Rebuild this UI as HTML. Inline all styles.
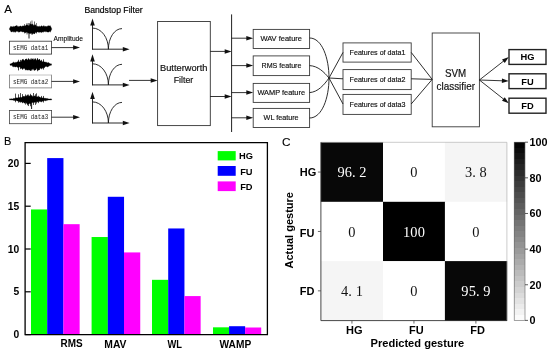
<!DOCTYPE html>
<html lang="en"><head><meta charset="utf-8"><title>Figure</title>
<style>
html,body{margin:0;padding:0;background:#fff;}
body{width:550px;height:352px;overflow:hidden;}
svg{display:block;}
</style></head><body>
<svg width="550" height="352" viewBox="0 0 550 352">
<rect x="0" y="0" width="550" height="352" fill="#fff"/>
<text x="4.2" y="13.1" font-size="11.5" font-family='"Liberation Sans", sans-serif' font-weight="normal" text-anchor="start" fill="#000" stroke="#000" stroke-width="0.1" >A</text>
<text x="84.4" y="13.2" font-size="8.8" font-family='"Liberation Sans", sans-serif' font-weight="normal" text-anchor="start" fill="#000" textLength="58.2" lengthAdjust="spacingAndGlyphs" stroke="#000" stroke-width="0.18" >Bandstop Filter</text>
<text x="53.5" y="41.0" font-size="7.2" font-family='"Liberation Sans", sans-serif' font-weight="normal" text-anchor="start" fill="#000" textLength="29.5" lengthAdjust="spacingAndGlyphs" stroke="#000" stroke-width="0.1" >Amplitude</text>
<path d="M9.50,28.21 L10.20,27.29 L10.90,26.08 L11.61,26.75 L12.31,26.78 L13.01,26.73 L13.71,26.24 L14.41,26.66 L15.11,25.95 L15.82,26.02 L16.52,25.47 L17.22,25.63 L17.92,26.63 L18.62,26.39 L19.32,26.57 L20.02,25.92 L20.73,26.03 L21.43,26.70 L22.13,25.79 L22.83,26.28 L23.53,26.01 L24.23,25.42 L24.94,26.17 L25.64,25.60 L26.34,25.11 L27.04,24.49 L27.74,25.34 L28.45,25.70 L29.15,25.80 L29.85,24.22 L30.55,23.90 L31.25,24.24 L31.95,24.50 L32.66,24.02 L33.36,24.88 L34.06,25.83 L34.76,24.84 L35.46,24.70 L36.16,25.64 L36.87,26.38 L37.57,26.25 L38.27,26.51 L38.97,26.47 L39.67,26.14 L40.37,26.64 L41.08,26.00 L41.78,25.64 L42.48,26.42 L43.18,26.32 L43.88,25.48 L44.58,26.58 L45.28,26.50 L45.99,26.01 L46.69,26.82 L47.39,26.31 L48.09,25.50 L48.79,26.11 L49.50,25.89 L50.20,25.58 L50.90,27.12 L51.60,28.18 L51.60,29.82 L50.90,30.82 L50.20,32.26 L49.50,31.25 L48.79,32.03 L48.09,32.13 L47.39,31.96 L46.69,31.76 L45.99,31.54 L45.28,31.85 L44.58,31.50 L43.88,31.39 L43.18,32.42 L42.48,31.77 L41.78,32.42 L41.08,32.48 L40.37,31.89 L39.67,32.56 L38.97,31.71 L38.27,32.59 L37.57,31.67 L36.87,32.35 L36.16,32.85 L35.46,32.33 L34.76,33.81 L34.06,33.43 L33.36,33.50 L32.66,34.19 L31.95,33.24 L31.25,33.55 L30.55,32.92 L29.85,33.38 L29.15,33.46 L28.45,32.95 L27.74,33.29 L27.04,31.98 L26.34,32.14 L25.64,32.97 L24.94,32.35 L24.23,32.44 L23.53,31.76 L22.83,32.12 L22.13,31.85 L21.43,31.50 L20.73,31.28 L20.02,31.71 L19.32,31.99 L18.62,32.32 L17.92,31.34 L17.22,31.58 L16.52,31.24 L15.82,31.72 L15.11,32.49 L14.41,31.48 L13.71,32.32 L13.01,31.30 L12.31,31.77 L11.61,31.88 L10.90,31.68 L10.20,30.26 L9.50,29.71Z" fill="#000" stroke="#000" stroke-width="0.3" stroke-linejoin="round"/>
<line x1="29.0" y1="23.0" x2="29.0" y2="38.5" stroke="#000" stroke-width="0.9"/>
<line x1="32.0" y1="20.5" x2="32.0" y2="35.0" stroke="#000" stroke-width="0.6"/>
<line x1="27.0" y1="23.0" x2="27.0" y2="34.5" stroke="#000" stroke-width="0.6"/>
<line x1="34.5" y1="21.5" x2="34.5" y2="34.0" stroke="#000" stroke-width="0.6"/>
<line x1="30.5" y1="21.5" x2="30.5" y2="34.0" stroke="#000" stroke-width="0.5"/>
<line x1="36.5" y1="23.0" x2="36.5" y2="33.5" stroke="#000" stroke-width="0.5"/>
<line x1="24.5" y1="24.0" x2="24.5" y2="33.5" stroke="#000" stroke-width="0.5"/>
<path d="M10.00,63.64 L10.70,63.93 L11.41,63.59 L12.11,63.12 L12.81,62.67 L13.52,61.99 L14.22,62.61 L14.92,62.70 L15.63,62.29 L16.33,62.46 L17.03,61.85 L17.74,61.67 L18.44,61.53 L19.14,62.09 L19.85,61.69 L20.55,61.97 L21.25,61.35 L21.96,59.80 L22.66,59.52 L23.36,59.19 L24.07,60.57 L24.77,60.48 L25.47,59.37 L26.18,58.75 L26.88,59.13 L27.58,60.48 L28.29,58.42 L28.99,58.80 L29.69,60.21 L30.40,59.83 L31.10,58.25 L31.81,59.66 L32.51,58.86 L33.21,60.34 L33.92,58.42 L34.62,60.30 L35.32,58.27 L36.03,59.85 L36.73,60.43 L37.43,58.51 L38.14,59.68 L38.84,60.04 L39.54,59.38 L40.25,60.81 L40.95,61.05 L41.65,61.26 L42.36,61.72 L43.06,61.61 L43.76,61.52 L44.47,61.96 L45.17,62.03 L45.87,62.14 L46.58,62.32 L47.28,62.84 L47.98,62.69 L48.69,62.49 L49.39,63.26 L50.09,63.57 L50.80,63.90 L51.50,63.85 L51.50,65.16 L50.80,65.27 L50.09,65.53 L49.39,65.87 L48.69,66.36 L47.98,66.63 L47.28,67.01 L46.58,66.40 L45.87,66.29 L45.17,67.01 L44.47,67.68 L43.76,67.92 L43.06,67.55 L42.36,68.56 L41.65,68.02 L40.95,68.61 L40.25,68.27 L39.54,68.30 L38.84,69.94 L38.14,70.26 L37.43,69.73 L36.73,68.29 L36.03,69.63 L35.32,69.94 L34.62,70.38 L33.92,70.34 L33.21,68.72 L32.51,68.77 L31.81,70.69 L31.10,69.33 L30.40,70.33 L29.69,70.30 L28.99,69.52 L28.29,70.26 L27.58,69.93 L26.88,70.23 L26.18,69.38 L25.47,70.28 L24.77,68.53 L24.07,68.44 L23.36,68.56 L22.66,69.58 L21.96,68.25 L21.25,68.40 L20.55,67.43 L19.85,66.83 L19.14,67.30 L18.44,67.37 L17.74,67.28 L17.03,67.34 L16.33,66.42 L15.63,66.97 L14.92,66.93 L14.22,66.50 L13.52,66.83 L12.81,66.72 L12.11,65.54 L11.41,65.25 L10.70,65.41 L10.00,65.12Z" fill="#000" stroke="#000" stroke-width="0.3" stroke-linejoin="round"/>
<line x1="18.5" y1="59.79" x2="18.5" y2="70.4" stroke="#000" stroke-width="0.75"/>
<line x1="20.5" y1="59.88" x2="20.5" y2="69.15" stroke="#000" stroke-width="0.75"/>
<line x1="22.5" y1="59.58" x2="22.5" y2="69.36" stroke="#000" stroke-width="0.75"/>
<line x1="25.5" y1="59.32" x2="25.5" y2="69.12" stroke="#000" stroke-width="0.75"/>
<line x1="27.5" y1="60.0" x2="27.5" y2="69.33" stroke="#000" stroke-width="0.75"/>
<line x1="29.5" y1="59.8" x2="29.5" y2="69.8" stroke="#000" stroke-width="0.75"/>
<line x1="30.5" y1="59.95" x2="30.5" y2="70.92" stroke="#000" stroke-width="0.75"/>
<line x1="32.5" y1="58.77" x2="32.5" y2="69.33" stroke="#000" stroke-width="0.75"/>
<line x1="34.5" y1="59.5" x2="34.5" y2="69.76" stroke="#000" stroke-width="0.75"/>
<line x1="35.5" y1="59.27" x2="35.5" y2="69.27" stroke="#000" stroke-width="0.75"/>
<line x1="37.5" y1="58.3" x2="37.5" y2="71.18" stroke="#000" stroke-width="0.75"/>
<line x1="39.5" y1="59.07" x2="39.5" y2="70.06" stroke="#000" stroke-width="0.75"/>
<line x1="41.5" y1="59.83" x2="41.5" y2="69.22" stroke="#000" stroke-width="0.75"/>
<line x1="43.5" y1="59.31" x2="43.5" y2="69.58" stroke="#000" stroke-width="0.75"/>
<path d="M9.50,98.84 L10.20,98.99 L10.90,98.86 L11.61,98.80 L12.31,98.91 L13.01,98.71 L13.71,98.29 L14.41,98.50 L15.11,98.12 L15.82,98.13 L16.52,97.66 L17.22,97.70 L17.92,98.06 L18.62,97.42 L19.32,97.83 L20.02,96.97 L20.73,97.55 L21.43,97.50 L22.13,97.07 L22.83,96.70 L23.53,95.96 L24.23,96.78 L24.94,95.95 L25.64,96.61 L26.34,95.43 L27.04,96.42 L27.74,95.29 L28.45,96.27 L29.15,96.27 L29.85,95.51 L30.55,95.34 L31.25,95.94 L31.95,95.53 L32.66,96.39 L33.36,96.60 L34.06,96.29 L34.76,95.72 L35.46,96.31 L36.16,96.71 L36.87,97.00 L37.57,96.56 L38.27,97.38 L38.97,96.71 L39.67,97.00 L40.37,97.47 L41.08,97.68 L41.78,97.53 L42.48,97.91 L43.18,97.71 L43.88,98.00 L44.58,98.29 L45.28,98.32 L45.99,98.36 L46.69,98.59 L47.39,98.40 L48.09,98.78 L48.79,98.90 L49.50,98.99 L50.20,98.97 L50.90,98.80 L51.60,98.98 L51.60,100.00 L50.90,99.90 L50.20,100.00 L49.50,99.88 L48.79,99.94 L48.09,100.01 L47.39,100.32 L46.69,100.58 L45.99,100.39 L45.28,100.93 L44.58,100.56 L43.88,100.76 L43.18,101.04 L42.48,101.28 L41.78,101.51 L41.08,101.22 L40.37,101.66 L39.67,101.41 L38.97,101.20 L38.27,101.75 L37.57,102.02 L36.87,101.49 L36.16,101.63 L35.46,102.00 L34.76,102.33 L34.06,102.50 L33.36,102.46 L32.66,102.50 L31.95,102.73 L31.25,102.60 L30.55,104.18 L29.85,103.07 L29.15,104.07 L28.45,104.01 L27.74,103.82 L27.04,103.96 L26.34,102.90 L25.64,102.14 L24.94,103.06 L24.23,103.20 L23.53,102.03 L22.83,102.76 L22.13,101.55 L21.43,102.18 L20.73,101.43 L20.02,102.02 L19.32,101.86 L18.62,101.28 L17.92,101.01 L17.22,101.00 L16.52,100.60 L15.82,100.76 L15.11,100.58 L14.41,100.44 L13.71,100.44 L13.01,100.12 L12.31,100.10 L11.61,100.02 L10.90,99.81 L10.20,99.95 L9.50,99.99Z" fill="#000" stroke="#000" stroke-width="0.3" stroke-linejoin="round"/>
<line x1="15.5" y1="93.57" x2="15.5" y2="102.25" stroke="#000" stroke-width="0.7"/>
<line x1="18.5" y1="94.29" x2="18.5" y2="102.7" stroke="#000" stroke-width="0.7"/>
<line x1="20.5" y1="93.1" x2="20.5" y2="102.6" stroke="#000" stroke-width="0.7"/>
<line x1="22.5" y1="94.12" x2="22.5" y2="103.18" stroke="#000" stroke-width="0.7"/>
<line x1="25.5" y1="94.46" x2="25.5" y2="104.59" stroke="#000" stroke-width="0.7"/>
<line x1="27.5" y1="94.66" x2="27.5" y2="105.24" stroke="#000" stroke-width="0.7"/>
<line x1="28.5" y1="94.57" x2="28.5" y2="106.05" stroke="#000" stroke-width="0.7"/>
<line x1="30.5" y1="93.82" x2="30.5" y2="106.25" stroke="#000" stroke-width="0.7"/>
<line x1="33.5" y1="93.0" x2="33.5" y2="104.91" stroke="#000" stroke-width="0.7"/>
<line x1="35.5" y1="94.3" x2="35.5" y2="104.89" stroke="#000" stroke-width="0.7"/>
<line x1="36.5" y1="93.34" x2="36.5" y2="103.49" stroke="#000" stroke-width="0.7"/>
<line x1="38.5" y1="95.79" x2="38.5" y2="103.11" stroke="#000" stroke-width="0.7"/>
<line x1="41.5" y1="95.95" x2="41.5" y2="102.19" stroke="#000" stroke-width="0.7"/>
<line x1="43.5" y1="95.95" x2="43.5" y2="102.52" stroke="#000" stroke-width="0.7"/>
<line x1="31.6" y1="95.4" x2="31.6" y2="109.0" stroke="#000" stroke-width="0.9"/>
<rect x="9.5" y="41.2" width="42.1" height="12.899999999999999" fill="none" stroke="#333" stroke-width="0.8"/>
<text x="13.1" y="49.85000000000001" font-size="6.8" font-family='"Liberation Mono", monospace' font-weight="normal" text-anchor="start" fill="#222" textLength="35.3" lengthAdjust="spacingAndGlyphs" >sEMG data1</text>
<line x1="51.5" y1="47.6" x2="74.1" y2="47.6" stroke="#111" stroke-width="0.85"/>
<polygon points="80.00,47.60 73.10,49.85 73.10,45.35" fill="#111"/>
<rect x="9.5" y="75.1" width="42.1" height="12.800000000000011" fill="none" stroke="#777" stroke-width="0.8"/>
<line x1="10" y1="75.1" x2="51.2" y2="75.1" stroke="#eee" stroke-width="1.2"/>
<text x="13.1" y="83.7" font-size="6.8" font-family='"Liberation Mono", monospace' font-weight="normal" text-anchor="start" fill="#222" textLength="35.3" lengthAdjust="spacingAndGlyphs" >sEMG data2</text>
<line x1="51.5" y1="81.4" x2="74.1" y2="81.4" stroke="#111" stroke-width="0.85"/>
<polygon points="80.00,81.40 73.10,83.65 73.10,79.15" fill="#111"/>
<rect x="9.5" y="110.5" width="42.1" height="13.200000000000003" fill="none" stroke="#444" stroke-width="0.8"/>
<text x="13.1" y="119.3" font-size="6.8" font-family='"Liberation Mono", monospace' font-weight="normal" text-anchor="start" fill="#222" textLength="35.3" lengthAdjust="spacingAndGlyphs" >sEMG data3</text>
<line x1="51.5" y1="117.2" x2="74.1" y2="117.2" stroke="#111" stroke-width="0.85"/>
<polygon points="80.00,117.20 73.10,119.45 73.10,114.95" fill="#111"/>
<line x1="92.5" y1="23.4" x2="92.5" y2="49.6" stroke="#111" stroke-width="0.9"/>
<polygon points="92.5,18.4 90.2,25.6 94.8,25.6" fill="#111"/>
<line x1="92.1" y1="49.2" x2="124" y2="49.2" stroke="#111" stroke-width="0.9"/>
<polygon points="129.6,49.2 122.8,46.95 122.8,51.45" fill="#111"/>
<path d="M92.6,28.1 A15.8,21.1 0 0 1 108.4,49.2 A13.6,20.6 0 0 1 122,28.6" fill="none" stroke="#1a1a1a" stroke-width="0.9"/>
<line x1="92.5" y1="59.2" x2="92.5" y2="85.30000000000001" stroke="#111" stroke-width="0.9"/>
<polygon points="92.5,54.2 90.2,61.4 94.8,61.4" fill="#111"/>
<line x1="92.1" y1="84.9" x2="124" y2="84.9" stroke="#111" stroke-width="0.9"/>
<polygon points="129.6,84.9 122.8,82.65 122.8,87.15" fill="#111"/>
<path d="M92.6,63.8 A15.8,21.1 0 0 1 108.4,84.9 A13.6,20.6 0 0 1 122,64.3" fill="none" stroke="#1a1a1a" stroke-width="0.9"/>
<line x1="92.5" y1="96.8" x2="92.5" y2="123.4" stroke="#111" stroke-width="0.9"/>
<polygon points="92.5,91.8 90.2,99.0 94.8,99.0" fill="#111"/>
<line x1="92.1" y1="123.0" x2="124" y2="123.0" stroke="#111" stroke-width="0.9"/>
<polygon points="129.6,123.0 122.8,120.75 122.8,125.25" fill="#111"/>
<path d="M92.6,101.9 A15.8,21.1 0 0 1 108.4,123.0 A13.6,20.6 0 0 1 122,102.4" fill="none" stroke="#1a1a1a" stroke-width="0.9"/>
<line x1="129" y1="80.4" x2="151.7" y2="80.4" stroke="#111" stroke-width="0.85"/>
<polygon points="157.60,80.40 150.70,82.65 150.70,78.15" fill="#111"/>
<rect x="157.6" y="21.5" width="52.7" height="104.1" fill="none" stroke="#333" stroke-width="0.9"/>
<text x="183.7" y="71.0" font-size="8.8" font-family='"Liberation Sans", sans-serif' font-weight="normal" text-anchor="middle" fill="#111" textLength="47.4" lengthAdjust="spacingAndGlyphs" stroke="#111" stroke-width="0.18" >Butterworth</text>
<text x="183.5" y="82.7" font-size="8.8" font-family='"Liberation Sans", sans-serif' font-weight="normal" text-anchor="middle" fill="#111" textLength="19.5" lengthAdjust="spacingAndGlyphs" stroke="#111" stroke-width="0.18" >Filter</text>
<line x1="210.2" y1="51.4" x2="225.7" y2="51.4" stroke="#111" stroke-width="0.85"/>
<polygon points="231.60,51.40 224.70,53.65 224.70,49.15" fill="#111"/>
<line x1="210.2" y1="96.5" x2="225.7" y2="96.5" stroke="#111" stroke-width="0.85"/>
<polygon points="231.60,96.50 224.70,98.75 224.70,94.25" fill="#111"/>
<line x1="231.6" y1="14.4" x2="231.6" y2="132" stroke="#222" stroke-width="1.0"/>
<line x1="231.6" y1="38.2" x2="247.3" y2="38.2" stroke="#111" stroke-width="0.85"/>
<polygon points="253.20,38.20 246.30,40.45 246.30,35.95" fill="#111"/>
<rect x="253.2" y="29.4" width="56.4" height="19.1" fill="none" stroke="#3a3a3a" stroke-width="0.9"/>
<text x="260.4" y="41.2" font-size="8.1" font-family='"Liberation Sans", sans-serif' font-weight="normal" text-anchor="start" fill="#111" textLength="41.6" lengthAdjust="spacingAndGlyphs" stroke="#111" stroke-width="0.18" >WAV feature</text>
<line x1="231.6" y1="65.6" x2="247.3" y2="65.6" stroke="#111" stroke-width="0.85"/>
<polygon points="253.20,65.60 246.30,67.85 246.30,63.35" fill="#111"/>
<rect x="253.2" y="55.9" width="56.4" height="19.699999999999996" fill="none" stroke="#3a3a3a" stroke-width="0.9"/>
<text x="261.6" y="68.1" font-size="8.1" font-family='"Liberation Sans", sans-serif' font-weight="normal" text-anchor="start" fill="#111" textLength="39.8" lengthAdjust="spacingAndGlyphs" stroke="#111" stroke-width="0.18" >RMS feature</text>
<line x1="231.6" y1="92.6" x2="247.3" y2="92.6" stroke="#111" stroke-width="0.85"/>
<polygon points="253.20,92.60 246.30,94.85 246.30,90.35" fill="#111"/>
<rect x="253.2" y="83.4" width="56.4" height="19.0" fill="none" stroke="#3a3a3a" stroke-width="0.9"/>
<text x="257.4" y="95.1" font-size="8.1" font-family='"Liberation Sans", sans-serif' font-weight="normal" text-anchor="start" fill="#111" textLength="47.6" lengthAdjust="spacingAndGlyphs" stroke="#111" stroke-width="0.18" >WAMP feature</text>
<line x1="231.6" y1="117.8" x2="247.3" y2="117.8" stroke="#111" stroke-width="0.85"/>
<polygon points="253.20,117.80 246.30,120.05 246.30,115.55" fill="#111"/>
<rect x="253.2" y="108.4" width="56.4" height="19.099999999999994" fill="none" stroke="#3a3a3a" stroke-width="0.9"/>
<text x="263.6" y="119.8" font-size="8.1" font-family='"Liberation Sans", sans-serif' font-weight="normal" text-anchor="start" fill="#111" textLength="35.0" lengthAdjust="spacingAndGlyphs" stroke="#111" stroke-width="0.18" >WL feature</text>
<path d="M309.6,38 C322,38 329,58 329,78" fill="none" stroke="#161616" stroke-width="0.9"/>
<path d="M309.6,65.6 C318,66 324,72 329,78" fill="none" stroke="#161616" stroke-width="0.9"/>
<path d="M309.6,92.6 C318,92 324,85 329,78" fill="none" stroke="#161616" stroke-width="0.9"/>
<path d="M309.6,118 C322,118 329,98 329,78" fill="none" stroke="#161616" stroke-width="0.9"/>
<rect x="343" y="42.9" width="68.2" height="19.200000000000003" fill="none" stroke="#3a3a3a" stroke-width="0.9"/>
<text x="349.6" y="55.1" font-size="8.0" font-family='"Liberation Sans", sans-serif' font-weight="normal" text-anchor="start" fill="#111" textLength="55.8" lengthAdjust="spacingAndGlyphs" stroke="#111" stroke-width="0.18" >Features of data1</text>
<line x1="329" y1="78" x2="343" y2="52.4" stroke="#161616" stroke-width="0.9"/>
<line x1="411.2" y1="52.4" x2="432.2" y2="79.4" stroke="#161616" stroke-width="0.9"/>
<rect x="343" y="69.6" width="68.2" height="20.0" fill="none" stroke="#3a3a3a" stroke-width="0.9"/>
<text x="349.6" y="82.0" font-size="8.0" font-family='"Liberation Sans", sans-serif' font-weight="normal" text-anchor="start" fill="#111" textLength="55.8" lengthAdjust="spacingAndGlyphs" stroke="#111" stroke-width="0.18" >Features of data2</text>
<line x1="329" y1="78" x2="343" y2="78.8" stroke="#161616" stroke-width="0.9"/>
<line x1="411.2" y1="78.8" x2="432.2" y2="79.4" stroke="#161616" stroke-width="0.9"/>
<rect x="343" y="94.4" width="68.2" height="20.0" fill="none" stroke="#3a3a3a" stroke-width="0.9"/>
<text x="349.6" y="107.0" font-size="8.0" font-family='"Liberation Sans", sans-serif' font-weight="normal" text-anchor="start" fill="#111" textLength="55.8" lengthAdjust="spacingAndGlyphs" stroke="#111" stroke-width="0.18" >Features of data3</text>
<line x1="329" y1="78" x2="343" y2="104.0" stroke="#161616" stroke-width="0.9"/>
<line x1="411.2" y1="104.0" x2="432.2" y2="79.4" stroke="#161616" stroke-width="0.9"/>
<rect x="432.2" y="33" width="47.2" height="93.8" fill="none" stroke="#3a3a3a" stroke-width="0.9"/>
<text x="455.6" y="76.5" font-size="10.4" font-family='"Liberation Sans", sans-serif' font-weight="normal" text-anchor="middle" fill="#111" textLength="21.2" lengthAdjust="spacingAndGlyphs" stroke="#111" stroke-width="0.18" >SVM</text>
<text x="455.8" y="90.0" font-size="10.2" font-family='"Liberation Sans", sans-serif' font-weight="normal" text-anchor="middle" fill="#111" textLength="38.4" lengthAdjust="spacingAndGlyphs" stroke="#111" stroke-width="0.18" >classifier</text>
<line x1="479.4" y1="80.0" x2="504.15" y2="60.64" stroke="#111" stroke-width="0.85"/>
<polygon points="508.80,57.00 504.75,63.02 501.98,59.48" fill="#111"/>
<rect x="509" y="49.6" width="37" height="14.800000000000004" fill="none" stroke="#222" stroke-width="1.4"/>
<text x="527.5" y="60.4" font-size="9.3" font-family='"Liberation Sans", sans-serif' font-weight="bold" text-anchor="middle" fill="#000" >HG</text>
<line x1="479.4" y1="80.0" x2="502.9" y2="80.8" stroke="#111" stroke-width="0.85"/>
<polygon points="508.80,81.00 501.83,83.01 501.98,78.52" fill="#111"/>
<rect x="509" y="73.8" width="37" height="14.799999999999997" fill="none" stroke="#222" stroke-width="1.4"/>
<text x="527.5" y="84.6" font-size="9.3" font-family='"Liberation Sans", sans-serif' font-weight="bold" text-anchor="middle" fill="#000" >FU</text>
<line x1="479.4" y1="80.0" x2="504.17" y2="99.55" stroke="#111" stroke-width="0.85"/>
<polygon points="508.80,103.20 501.99,100.69 504.78,97.16" fill="#111"/>
<rect x="509" y="98.2" width="37" height="15.0" fill="none" stroke="#222" stroke-width="1.4"/>
<text x="527.5" y="109.0" font-size="9.3" font-family='"Liberation Sans", sans-serif' font-weight="bold" text-anchor="middle" fill="#000" >FD</text>
<text x="4.0" y="145.4" font-size="11.0" font-family='"Liberation Sans", sans-serif' font-weight="normal" text-anchor="start" fill="#000" stroke="#000" stroke-width="0.1" >B</text>
<rect x="31.00" y="209.45" width="16.25" height="125.15" fill="#00ff00"/>
<rect x="47.20" y="158.09" width="16.25" height="176.51" fill="#0000ff"/>
<rect x="63.40" y="224.18" width="16.25" height="110.42" fill="#ff00ff"/>
<rect x="91.60" y="237.02" width="16.25" height="97.58" fill="#00ff00"/>
<rect x="107.80" y="196.78" width="16.25" height="137.82" fill="#0000ff"/>
<rect x="124.00" y="252.42" width="16.25" height="82.18" fill="#ff00ff"/>
<rect x="152.00" y="279.82" width="16.25" height="54.78" fill="#00ff00"/>
<rect x="168.20" y="228.46" width="16.25" height="106.14" fill="#0000ff"/>
<rect x="184.40" y="296.08" width="16.25" height="38.52" fill="#ff00ff"/>
<rect x="213.00" y="327.32" width="16.10" height="7.28" fill="#00ff00"/>
<rect x="229.05" y="326.21" width="16.10" height="8.39" fill="#0000ff"/>
<rect x="245.10" y="327.50" width="16.10" height="7.10" fill="#ff00ff"/>
<path d="M25.1,142.6 H267.4 V334.6 H25.1 Z" fill="none" stroke="#000" stroke-width="1.3"/>
<line x1="25.1" y1="334.6" x2="30.700000000000003" y2="334.6" stroke="#000" stroke-width="1.2"/>
<text x="19.2" y="338.1" font-size="10.3" font-family='"Liberation Sans", sans-serif' font-weight="bold" text-anchor="end" fill="#000" >0</text>
<line x1="25.1" y1="291.8" x2="30.700000000000003" y2="291.8" stroke="#000" stroke-width="1.2"/>
<text x="19.2" y="295.3" font-size="10.3" font-family='"Liberation Sans", sans-serif' font-weight="bold" text-anchor="end" fill="#000" >5</text>
<line x1="25.1" y1="249.0" x2="30.700000000000003" y2="249.0" stroke="#000" stroke-width="1.2"/>
<text x="19.2" y="252.5" font-size="10.3" font-family='"Liberation Sans", sans-serif' font-weight="bold" text-anchor="end" fill="#000" >10</text>
<line x1="25.1" y1="206.20000000000002" x2="30.700000000000003" y2="206.20000000000002" stroke="#000" stroke-width="1.2"/>
<text x="19.2" y="209.70000000000002" font-size="10.3" font-family='"Liberation Sans", sans-serif' font-weight="bold" text-anchor="end" fill="#000" >15</text>
<line x1="25.1" y1="163.4" x2="30.700000000000003" y2="163.4" stroke="#000" stroke-width="1.2"/>
<text x="19.2" y="166.9" font-size="10.3" font-family='"Liberation Sans", sans-serif' font-weight="bold" text-anchor="end" fill="#000" >20</text>
<text x="60.6" y="346.8" font-size="10.0" font-family='"Liberation Sans", sans-serif' font-weight="bold" text-anchor="start" fill="#000" textLength="22.1" lengthAdjust="spacingAndGlyphs" >RMS</text>
<text x="104.3" y="348.0" font-size="10.0" font-family='"Liberation Sans", sans-serif' font-weight="bold" text-anchor="start" fill="#000" textLength="22.2" lengthAdjust="spacingAndGlyphs" >MAV</text>
<text x="167.5" y="348.0" font-size="10.0" font-family='"Liberation Sans", sans-serif' font-weight="bold" text-anchor="start" fill="#000" textLength="14.5" lengthAdjust="spacingAndGlyphs" >WL</text>
<text x="219.6" y="348.0" font-size="10.0" font-family='"Liberation Sans", sans-serif' font-weight="bold" text-anchor="start" fill="#000" textLength="31.6" lengthAdjust="spacingAndGlyphs" >WAMP</text>
<rect x="217.7" y="151.1" width="18" height="9.3" fill="#00ff00"/>
<text x="239.0" y="158.6" font-size="9.3" font-family='"Liberation Sans", sans-serif' font-weight="bold" text-anchor="start" fill="#000" >HG</text>
<rect x="217.7" y="166" width="18" height="9.8" fill="#0000ff"/>
<text x="240.2" y="174.8" font-size="9.3" font-family='"Liberation Sans", sans-serif' font-weight="bold" text-anchor="start" fill="#000" >FU</text>
<rect x="217.7" y="181.4" width="18" height="9.7" fill="#ff00ff"/>
<text x="240.2" y="189.6" font-size="9.3" font-family='"Liberation Sans", sans-serif' font-weight="bold" text-anchor="start" fill="#000" >FD</text>
<text x="282.0" y="146.3" font-size="11.8" font-family='"Liberation Sans", sans-serif' font-weight="normal" text-anchor="start" fill="#000" stroke="#000" stroke-width="0.1" >C</text>
<rect x="320.9" y="142.3" width="62.4" height="59.8" fill="rgb(8,8,8)"/>
<text x="337.40 344.70 352.00 359.30" y="177.2" font-size="14.4" font-family='"Liberation Serif", serif' fill="#fff">96.2</text>
<rect x="383.0" y="142.3" width="62.2" height="59.8" fill="rgb(255,255,255)"/>
<text x="410.35" y="177.2" font-size="14.4" font-family='"Liberation Serif", serif' fill="#111">0</text>
<rect x="444.9" y="142.3" width="62.3" height="59.8" fill="rgb(245,245,245)"/>
<text x="465.00 472.30 479.60" y="177.2" font-size="14.4" font-family='"Liberation Serif", serif' fill="#111">3.8</text>
<rect x="320.9" y="201.8" width="62.4" height="59.6" fill="rgb(255,255,255)"/>
<text x="348.35" y="236.6" font-size="14.4" font-family='"Liberation Serif", serif' fill="#111">0</text>
<rect x="383.0" y="201.8" width="62.2" height="59.6" fill="rgb(0,0,0)"/>
<text x="403.05 410.35 417.65" y="236.6" font-size="14.4" font-family='"Liberation Serif", serif' fill="#fff">100</text>
<rect x="444.9" y="201.8" width="62.3" height="59.6" fill="rgb(255,255,255)"/>
<text x="472.30" y="236.6" font-size="14.4" font-family='"Liberation Serif", serif' fill="#111">0</text>
<rect x="320.9" y="261.1" width="62.4" height="59.8" fill="rgb(245,245,245)"/>
<text x="341.05 348.35 355.65" y="296.0" font-size="14.4" font-family='"Liberation Serif", serif' fill="#111">4.1</text>
<rect x="383.0" y="261.1" width="62.2" height="59.8" fill="rgb(255,255,255)"/>
<text x="410.35" y="296.0" font-size="14.4" font-family='"Liberation Serif", serif' fill="#111">0</text>
<rect x="444.9" y="261.1" width="62.3" height="59.8" fill="rgb(8,8,8)"/>
<text x="461.35 468.65 475.95 483.25" y="296.0" font-size="14.4" font-family='"Liberation Serif", serif' fill="#fff">95.9</text>
<path d="M320.9,142.3 H506.9 V320.6" fill="none" stroke="#aaa" stroke-width="0.6"/>
<path d="M320.9,142.3 V320.6 H506.9" fill="none" stroke="#333" stroke-width="0.9"/>
<line x1="317.9" y1="172.05" x2="320.9" y2="172.05" stroke="#444" stroke-width="0.8"/>
<text x="299.7" y="176.4" font-size="11" font-family='"Liberation Sans", sans-serif' font-weight="bold" text-anchor="start" fill="#000" >HG</text>
<line x1="317.9" y1="231.45000000000002" x2="320.9" y2="231.45000000000002" stroke="#444" stroke-width="0.8"/>
<text x="299.7" y="236.6" font-size="11" font-family='"Liberation Sans", sans-serif' font-weight="bold" text-anchor="start" fill="#000" >FU</text>
<line x1="317.9" y1="290.85" x2="320.9" y2="290.85" stroke="#444" stroke-width="0.8"/>
<text x="299.7" y="294.5" font-size="11" font-family='"Liberation Sans", sans-serif' font-weight="bold" text-anchor="start" fill="#000" >FD</text>
<line x1="351.95" y1="320.6" x2="351.95" y2="323.6" stroke="#444" stroke-width="0.8"/>
<text x="354.3" y="334.0" font-size="11" font-family='"Liberation Sans", sans-serif' font-weight="bold" text-anchor="middle" fill="#000" >HG</text>
<line x1="413.95" y1="320.6" x2="413.95" y2="323.6" stroke="#444" stroke-width="0.8"/>
<text x="416.45" y="334.0" font-size="11" font-family='"Liberation Sans", sans-serif' font-weight="bold" text-anchor="middle" fill="#000" >FU</text>
<line x1="475.9" y1="320.6" x2="475.9" y2="323.6" stroke="#444" stroke-width="0.8"/>
<text x="477.65" y="334.0" font-size="11" font-family='"Liberation Sans", sans-serif' font-weight="bold" text-anchor="middle" fill="#000" >FD</text>
<text x="370.5" y="346.7" font-size="11" font-family='"Liberation Sans", sans-serif' font-weight="bold" text-anchor="start" fill="#000" textLength="93.7" lengthAdjust="spacingAndGlyphs" >Predicted gesture</text>
<text transform="translate(293.4,268.5) rotate(-90)" font-size="11" font-family='"Liberation Sans", sans-serif' font-weight="bold" fill="#000">Actual gesture</text>
<rect x="514.2" y="142.20" width="10.8" height="6.57" fill="rgb(4,4,4)" shape-rendering="crispEdges"/>
<rect x="514.2" y="147.77" width="10.8" height="6.57" fill="rgb(12,12,12)" shape-rendering="crispEdges"/>
<rect x="514.2" y="153.34" width="10.8" height="6.57" fill="rgb(20,20,20)" shape-rendering="crispEdges"/>
<rect x="514.2" y="158.91" width="10.8" height="6.57" fill="rgb(28,28,28)" shape-rendering="crispEdges"/>
<rect x="514.2" y="164.47" width="10.8" height="6.57" fill="rgb(36,36,36)" shape-rendering="crispEdges"/>
<rect x="514.2" y="170.04" width="10.8" height="6.57" fill="rgb(44,44,44)" shape-rendering="crispEdges"/>
<rect x="514.2" y="175.61" width="10.8" height="6.57" fill="rgb(52,52,52)" shape-rendering="crispEdges"/>
<rect x="514.2" y="181.18" width="10.8" height="6.57" fill="rgb(60,60,60)" shape-rendering="crispEdges"/>
<rect x="514.2" y="186.75" width="10.8" height="6.57" fill="rgb(68,68,68)" shape-rendering="crispEdges"/>
<rect x="514.2" y="192.32" width="10.8" height="6.57" fill="rgb(76,76,76)" shape-rendering="crispEdges"/>
<rect x="514.2" y="197.89" width="10.8" height="6.57" fill="rgb(84,84,84)" shape-rendering="crispEdges"/>
<rect x="514.2" y="203.46" width="10.8" height="6.57" fill="rgb(92,92,92)" shape-rendering="crispEdges"/>
<rect x="514.2" y="209.02" width="10.8" height="6.57" fill="rgb(100,100,100)" shape-rendering="crispEdges"/>
<rect x="514.2" y="214.59" width="10.8" height="6.57" fill="rgb(108,108,108)" shape-rendering="crispEdges"/>
<rect x="514.2" y="220.16" width="10.8" height="6.57" fill="rgb(116,116,116)" shape-rendering="crispEdges"/>
<rect x="514.2" y="225.73" width="10.8" height="6.57" fill="rgb(124,124,124)" shape-rendering="crispEdges"/>
<rect x="514.2" y="231.30" width="10.8" height="6.57" fill="rgb(131,131,131)" shape-rendering="crispEdges"/>
<rect x="514.2" y="236.87" width="10.8" height="6.57" fill="rgb(139,139,139)" shape-rendering="crispEdges"/>
<rect x="514.2" y="242.44" width="10.8" height="6.57" fill="rgb(147,147,147)" shape-rendering="crispEdges"/>
<rect x="514.2" y="248.01" width="10.8" height="6.57" fill="rgb(155,155,155)" shape-rendering="crispEdges"/>
<rect x="514.2" y="253.57" width="10.8" height="6.57" fill="rgb(163,163,163)" shape-rendering="crispEdges"/>
<rect x="514.2" y="259.14" width="10.8" height="6.57" fill="rgb(171,171,171)" shape-rendering="crispEdges"/>
<rect x="514.2" y="264.71" width="10.8" height="6.57" fill="rgb(179,179,179)" shape-rendering="crispEdges"/>
<rect x="514.2" y="270.28" width="10.8" height="6.57" fill="rgb(187,187,187)" shape-rendering="crispEdges"/>
<rect x="514.2" y="275.85" width="10.8" height="6.57" fill="rgb(195,195,195)" shape-rendering="crispEdges"/>
<rect x="514.2" y="281.42" width="10.8" height="6.57" fill="rgb(203,203,203)" shape-rendering="crispEdges"/>
<rect x="514.2" y="286.99" width="10.8" height="6.57" fill="rgb(211,211,211)" shape-rendering="crispEdges"/>
<rect x="514.2" y="292.56" width="10.8" height="6.57" fill="rgb(219,219,219)" shape-rendering="crispEdges"/>
<rect x="514.2" y="298.12" width="10.8" height="6.57" fill="rgb(227,227,227)" shape-rendering="crispEdges"/>
<rect x="514.2" y="303.69" width="10.8" height="6.57" fill="rgb(235,235,235)" shape-rendering="crispEdges"/>
<rect x="514.2" y="309.26" width="10.8" height="6.57" fill="rgb(243,243,243)" shape-rendering="crispEdges"/>
<rect x="514.2" y="314.83" width="10.8" height="5.57" fill="rgb(251,251,251)" shape-rendering="crispEdges"/>
<rect x="514.2" y="142.2" width="10.8" height="178.2" fill="none" stroke="#666" stroke-width="0.6"/>
<line x1="525.0" y1="320.4" x2="528.0" y2="320.4" stroke="#333" stroke-width="0.8"/>
<text x="529.6" y="324.29999999999995" font-size="10.8" font-family='"Liberation Sans", sans-serif' font-weight="bold" text-anchor="start" fill="#000" >0</text>
<line x1="525.0" y1="284.76" x2="528.0" y2="284.76" stroke="#333" stroke-width="0.8"/>
<text x="529.6" y="288.65999999999997" font-size="10.8" font-family='"Liberation Sans", sans-serif' font-weight="bold" text-anchor="start" fill="#000" >20</text>
<line x1="525.0" y1="249.11999999999998" x2="528.0" y2="249.11999999999998" stroke="#333" stroke-width="0.8"/>
<text x="529.6" y="253.01999999999998" font-size="10.8" font-family='"Liberation Sans", sans-serif' font-weight="bold" text-anchor="start" fill="#000" >40</text>
<line x1="525.0" y1="213.47999999999996" x2="528.0" y2="213.47999999999996" stroke="#333" stroke-width="0.8"/>
<text x="529.6" y="217.37999999999997" font-size="10.8" font-family='"Liberation Sans", sans-serif' font-weight="bold" text-anchor="start" fill="#000" >60</text>
<line x1="525.0" y1="177.83999999999997" x2="528.0" y2="177.83999999999997" stroke="#333" stroke-width="0.8"/>
<text x="529.6" y="181.73999999999998" font-size="10.8" font-family='"Liberation Sans", sans-serif' font-weight="bold" text-anchor="start" fill="#000" >80</text>
<line x1="525.0" y1="142.2" x2="528.0" y2="142.2" stroke="#333" stroke-width="0.8"/>
<text x="529.6" y="146.1" font-size="10.8" font-family='"Liberation Sans", sans-serif' font-weight="bold" text-anchor="start" fill="#000" >100</text>
</svg></body></html>
